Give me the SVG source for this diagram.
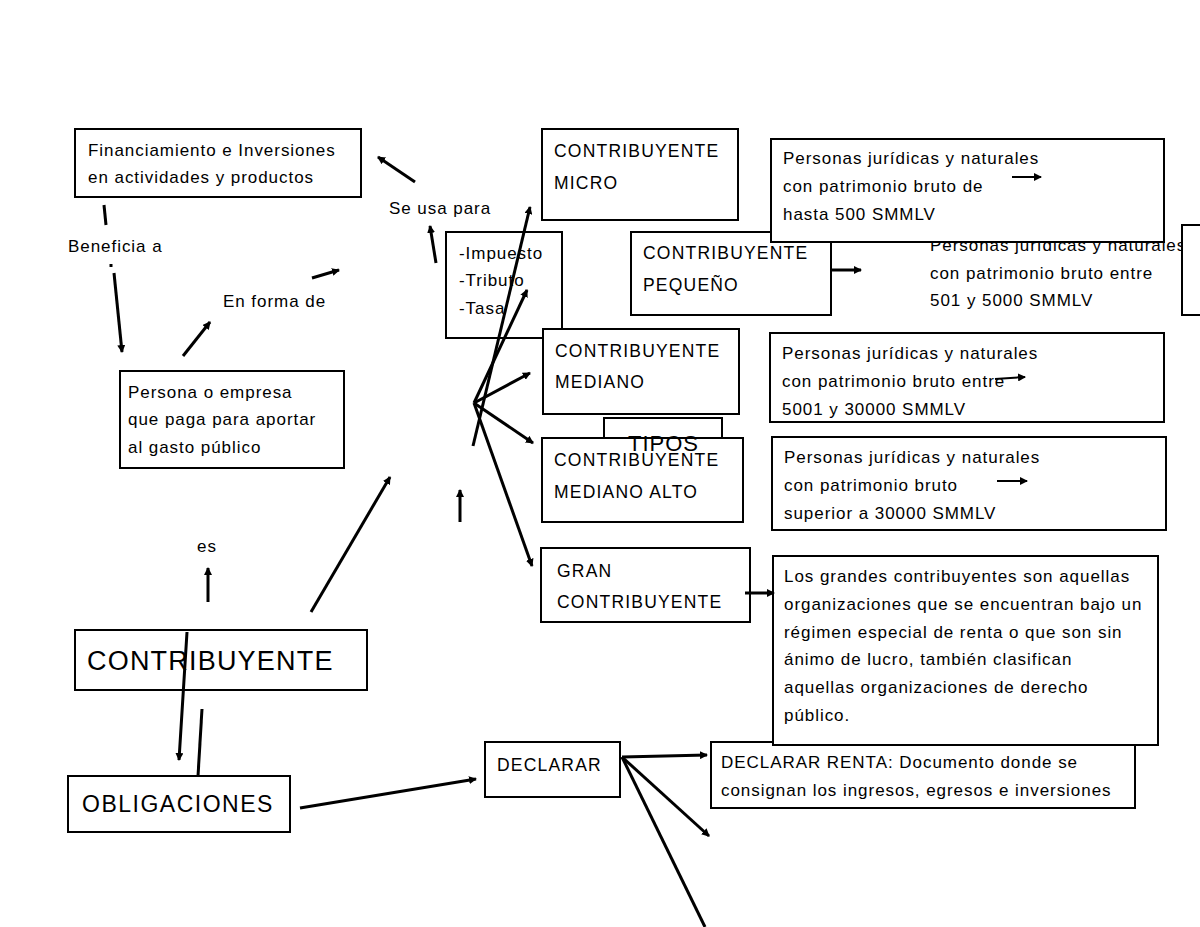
<svg xmlns="http://www.w3.org/2000/svg" width="1200" height="927" viewBox="0 0 1200 927">
<defs>
<marker id="ah" markerWidth="8" markerHeight="8" refX="7" refY="4" orient="auto" markerUnits="userSpaceOnUse" viewBox="0 0 8 8"><path d="M0,0 L8,4 L0,8 z" fill="#000"/></marker>
<style>
.b{fill:#fff;stroke:#000;stroke-width:2}
.t{font-family:"Liberation Sans",Arial,sans-serif;font-size:17px;letter-spacing:0.95px;fill:#000}
.m{font-family:"Liberation Sans",Arial,sans-serif;font-size:17.5px;letter-spacing:1.2px;fill:#000}
.c{stroke:#000;stroke-width:3;fill:none}
.a{stroke:#000;stroke-width:3;fill:none;marker-end:url(#ah)}
.a2{stroke:#000;stroke-width:2;fill:none;marker-end:url(#ah)}
</style>
</defs>
<rect width="1200" height="927" fill="#fff"/>

<g id="n-personas2-text">
<text class="t" x="930" y="251">Personas jurídicas y naturales</text>
<text class="t" x="930" y="279">con patrimonio bruto entre</text>
<text class="t" x="930" y="306">501 y 5000 SMMLV</text>
</g>

<g id="n-financiamiento"><rect class="b" x="75" y="129" width="286" height="68"/>
<text class="t" x="88" y="156">Financiamiento e Inversiones</text>
<text class="t" x="88" y="183">en actividades y productos</text></g>

<g id="n-seusa"><text class="t" x="389" y="214">Se usa para</text></g>
<g id="n-beneficia"><text class="t" x="68" y="252">Beneficia a</text></g>
<g id="n-enforma"><text class="t" x="223" y="307">En forma de</text></g>

<g id="n-persona"><rect class="b" x="120" y="371" width="224" height="97"/>
<text class="t" x="128" y="398">Persona o empresa</text>
<text class="t" x="128" y="425">que paga para aportar</text>
<text class="t" x="128" y="453">al gasto público</text></g>

<g id="n-es"><text class="t" x="197" y="552">es</text></g>

<g id="n-contribuyente"><rect class="b" x="75" y="630" width="292" height="60"/>
<text font-family="Liberation Sans,Arial,sans-serif" font-size="27" letter-spacing="1.2" x="87" y="670">CONTRIBUYENTE</text></g>

<g id="n-obligaciones"><rect class="b" x="68" y="776" width="222" height="56"/>
<text font-family="Liberation Sans,Arial,sans-serif" font-size="23" letter-spacing="1.5" x="82" y="812">OBLIGACIONES</text></g>

<g id="n-declarar"><rect class="b" x="485" y="742" width="135" height="55"/>
<text class="m" x="497" y="771">DECLARAR</text></g>

<g id="n-declarar-renta"><rect class="b" x="711" y="742" width="424" height="66"/>
<text class="t" x="721" y="768">DECLARAR RENTA: Documento donde se</text>
<text class="t" x="721" y="796">consignan los ingresos, egresos e inversiones</text></g>

<g id="n-grandes-desc"><rect class="b" x="773" y="556" width="385" height="189"/>
<text class="t" x="784" y="582">Los grandes contribuyentes son aquellas</text>
<text class="t" x="784" y="610">organizaciones que se encuentran bajo un</text>
<text class="t" x="784" y="638">régimen especial de renta o que son sin</text>
<text class="t" x="784" y="665">ánimo de lucro, también clasifican</text>
<text class="t" x="784" y="693">aquellas organizaciones de derecho</text>
<text class="t" x="784" y="721">público.</text></g>

<g id="n-gran"><rect class="b" x="541" y="548" width="209" height="74"/>
<text class="m" x="557" y="577">GRAN</text>
<text class="m" x="557" y="608">CONTRIBUYENTE</text></g>

<g id="n-impuesto"><rect class="b" x="446" y="232" width="116" height="106"/>
<text class="t" x="459" y="259">-Impuesto</text>
<text class="t" x="459" y="286">-Tributo</text>
<text class="t" x="459" y="314">-Tasa</text></g>

<g id="n-micro"><rect class="b" x="542" y="129" width="196" height="91"/>
<text class="m" x="554" y="157">CONTRIBUYENTE</text>
<text class="m" x="554" y="189">MICRO</text></g>

<g id="n-pequeno"><rect class="b" x="631" y="232" width="200" height="83"/>
<text class="m" x="643" y="259">CONTRIBUYENTE</text>
<text class="m" x="643" y="291">PEQUEÑO</text></g>

<g id="n-mediano"><rect class="b" x="543" y="329" width="196" height="85"/>
<text class="m" x="555" y="357">CONTRIBUYENTE</text>
<text class="m" x="555" y="388">MEDIANO</text></g>

<g id="n-tipos"><rect class="b" x="604" y="418" width="118" height="30"/></g>

<g id="n-mediano-alto"><rect class="b" x="542" y="438" width="201" height="84"/>
<text class="m" x="554" y="466">CONTRIBUYENTE</text>
<text class="m" x="554" y="498">MEDIANO ALTO</text></g>
<text font-family="Liberation Sans,Arial,sans-serif" font-size="22" letter-spacing="1" x="628" y="451">TIPOS</text>

<g id="n-personas1"><rect class="b" x="771" y="139" width="393" height="103"/>
<text class="t" x="783" y="164">Personas jurídicas y naturales</text>
<text class="t" x="783" y="192">con patrimonio bruto de</text>
<text class="t" x="783" y="220">hasta 500 SMMLV</text></g>

<g id="n-partial"><rect class="b" x="1182" y="225" width="30" height="90"/></g>

<g id="n-personas3"><rect class="b" x="770" y="333" width="394" height="89"/>
<text class="t" x="782" y="359">Personas jurídicas y naturales</text>
<text class="t" x="782" y="387">con patrimonio bruto entre</text>
<text class="t" x="782" y="415">5001 y 30000 SMMLV</text></g>

<g id="n-personas4"><rect class="b" x="772" y="437" width="394" height="93"/>
<text class="t" x="784" y="463">Personas jurídicas y naturales</text>
<text class="t" x="784" y="491">con patrimonio bruto</text>
<text class="t" x="784" y="519">superior a 30000 SMMLV</text></g>

<g id="connectors">
<line class="a" x1="415" y1="182" x2="378" y2="157"/>
<line class="c" x1="104" y1="205" x2="106" y2="225"/>
<line class="c" x1="111" y1="264" x2="111" y2="267" stroke-width="2"/>
<line class="a" x1="114" y1="273" x2="122" y2="352"/>
<line class="a" x1="183" y1="356" x2="210" y2="322"/>
<line class="a" x1="312" y1="278" x2="339" y2="270"/>
<line class="a" x1="436" y1="263" x2="430" y2="226"/>
<line class="a" x1="473" y1="446" x2="530" y2="207"/>
<line class="a" x1="474" y1="403" x2="527" y2="290"/>
<line class="a" x1="474" y1="403" x2="530" y2="373"/>
<line class="a" x1="474" y1="403" x2="533" y2="443"/>
<line class="a" x1="474" y1="403" x2="532" y2="566"/>
<line class="a" x1="460" y1="522" x2="460" y2="490"/>
<line class="a" x1="208" y1="602" x2="208" y2="568"/>
<line class="a" x1="311" y1="612" x2="390" y2="477"/>
<line class="a" x1="187" y1="632" x2="179" y2="760"/>
<line class="c" x1="198" y1="776" x2="202" y2="709"/>
<line class="a" x1="300" y1="808" x2="476" y2="779"/>
<line class="a" x1="622" y1="757" x2="707" y2="755"/>
<line class="a" x1="622" y1="757" x2="709" y2="836"/>
<line class="c" x1="622" y1="757" x2="705" y2="927"/>
<line class="a" x1="745" y1="593" x2="774" y2="593"/>
<line class="a" x1="831" y1="270" x2="861" y2="270"/>
<line class="a2" x1="1012" y1="177" x2="1041" y2="177"/>
<line class="a2" x1="995" y1="379" x2="1025" y2="377"/>
<line class="a2" x1="997" y1="481" x2="1027" y2="481"/>
</g>
</svg>
